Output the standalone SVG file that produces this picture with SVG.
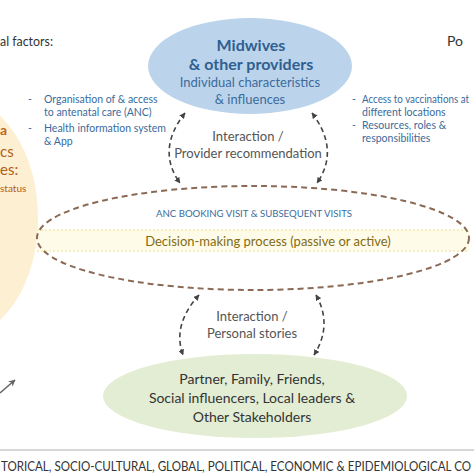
<svg xmlns="http://www.w3.org/2000/svg" width="474" height="474" viewBox="0 0 474 474">
<defs>
<style>
text{font-family:Lato,"Liberation Sans",sans-serif}
.blue{fill:#2f5f91}
.lb{fill:#3a6b9c;font-size:10.5px}
.gray{fill:#555555;font-size:13px}
.conn{fill:none;stroke:#444444;stroke-width:1.6;stroke-dasharray:5,3.5}
</style>
<marker id="ah" viewBox="0 0 10 10" refX="9" refY="5" markerWidth="6" markerHeight="6" orient="auto-start-reverse" markerUnits="userSpaceOnUse">
<path d="M0,0 L10,5 L0,10 z" fill="#444444"/>
</marker>
<marker id="ag" viewBox="0 0 10 10" refX="9" refY="5" markerWidth="7" markerHeight="7" orient="auto" markerUnits="userSpaceOnUse">
<path d="M0,0 L10,5 L0,10 L3,5 z" fill="#666666"/>
</marker>
</defs>
<rect width="474" height="474" fill="#ffffff"/>

<g id="individual">
<ellipse cx="-42" cy="218" rx="80" ry="120" fill="#fdefd2"/>
<text x="0" y="135" font-size="14" font-weight="bold" fill="#c0651a">a</text>
<text x="0" y="157" font-size="15" fill="#b0601a">cs</text>
<text x="0" y="175" font-size="15" fill="#b0601a">es:</text>
<text x="0" y="192" font-size="10" fill="#b0601a">status</text>
</g>

<g id="structural">
<text x="0" y="46" font-size="14" fill="#333333" textLength="53" lengthAdjust="spacingAndGlyphs">al factors:</text>
<text x="28" y="103" class="lb">-</text>
<text x="44" y="103" class="lb">Organisation of &amp; access</text>
<text x="44" y="116" class="lb">to antenatal care (ANC)</text>
<text x="28" y="132" class="lb">-</text>
<text x="44" y="132" class="lb">Health information system</text>
<text x="44" y="145" class="lb">&amp; App</text>
</g>

<g id="policy">
<text x="447" y="46" font-size="14" fill="#333333">Po</text>
<text x="352" y="103" class="lb">-</text>
<text x="362" y="103" class="lb" textLength="107" lengthAdjust="spacingAndGlyphs">Access to vaccinations at</text>
<text x="362" y="116" class="lb">different locations</text>
<text x="352" y="129" class="lb">-</text>
<text x="362" y="129" class="lb">Resources, roles &amp;</text>
<text x="362" y="142" class="lb">responsibilities</text>
</g>

<g id="midwives">
<ellipse cx="250" cy="66" rx="102" ry="48" fill="#bcd4eb"/>
<text x="251" y="51" text-anchor="middle" font-size="16" font-weight="bold" class="blue">Midwives</text>
<text x="251" y="70" text-anchor="middle" font-size="16" font-weight="bold" class="blue">&amp; other providers</text>
<text x="250" y="87" text-anchor="middle" font-size="13" fill="#3a6b9c">Individual characteristics</text>
<text x="250" y="104" text-anchor="middle" font-size="13" fill="#3a6b9c">&amp; influences</text>
</g>

<g id="anc">
<rect x="37" y="230" width="432" height="21" fill="#fffbe9"/>
<line x1="37" y1="230" x2="469" y2="230" stroke="#f0e08c" stroke-width="1" stroke-dasharray="2,2"/>
<line x1="37" y1="251" x2="469" y2="251" stroke="#f0e08c" stroke-width="1" stroke-dasharray="2,2"/>
<ellipse cx="253" cy="238" rx="216" ry="52" fill="none" stroke="#8a6a55" stroke-width="2" stroke-dasharray="6,4"/>
<text x="254" y="217" text-anchor="middle" font-size="9.6" fill="#3a6b9c">ANC BOOKING VISIT &amp; SUBSEQUENT VISITS</text>
<text x="268" y="246" text-anchor="middle" font-size="13" fill="#7f6c14">Decision-making process (passive or active)</text>
</g>

<g id="social">
<ellipse cx="255" cy="396" rx="152" ry="42" fill="#e2edd3"/>
<text x="252" y="384" text-anchor="middle" font-size="14" fill="#333333">Partner, Family, Friends,</text>
<text x="252" y="403" text-anchor="middle" font-size="14" fill="#333333">Social influencers, Local leaders &amp;</text>
<text x="252" y="422" text-anchor="middle" font-size="14" fill="#333333">Other Stakeholders</text>
</g>

<g id="context">
<line x1="0" y1="450" x2="474" y2="450" stroke="#b0b0b0" stroke-width="1.2"/>
<text x="1" y="471" font-size="14" fill="#333333" textLength="470" lengthAdjust="spacingAndGlyphs">TORICAL, SOCIO-CULTURAL, GLOBAL, POLITICAL, ECONOMIC &amp; EPIDEMIOLOGICAL CO</text>
</g>

<g id="connectors">
<path class="conn" d="M185,113 Q156,150 180,183" marker-start="url(#ah)" marker-end="url(#ah)"/>
<path class="conn" d="M312,113 Q340,150 317,183" marker-start="url(#ah)" marker-end="url(#ah)"/>
<path class="conn" d="M199,295 Q172,325 183,355" marker-start="url(#ah)" marker-end="url(#ah)"/>
<path class="conn" d="M316,295 Q333,325 314,355" marker-start="url(#ah)" marker-end="url(#ah)"/>
<path d="M0,393 L15,380" fill="none" stroke="#666666" stroke-width="1.5" marker-end="url(#ag)"/>
</g>

<g id="interaction-labels">
<text x="248" y="141" text-anchor="middle" class="gray">Interaction /</text>
<text x="248" y="158" text-anchor="middle" class="gray">Provider recommendation</text>
<text x="252" y="321" text-anchor="middle" class="gray">Interaction /</text>
<text x="252" y="338" text-anchor="middle" class="gray">Personal stories</text>
</g>
</svg>
